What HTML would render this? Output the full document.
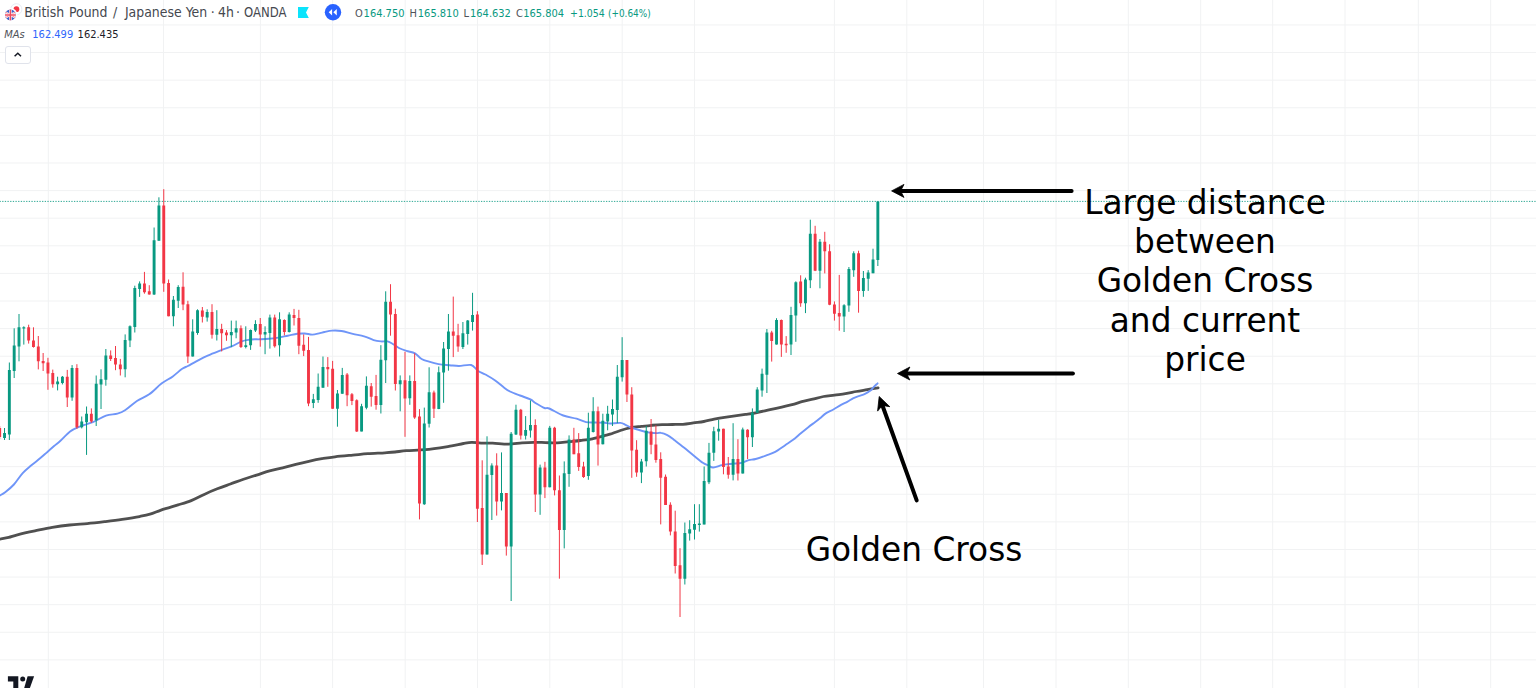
<!DOCTYPE html>
<html><head><meta charset="utf-8"><title>GBPJPY 4h</title>
<style>
html,body{margin:0;padding:0;background:#fff;}
body{width:1536px;height:688px;overflow:hidden;position:relative;font-family:"Liberation Sans",Arial,sans-serif;}
.chart{position:absolute;left:0;top:0;}
.t{position:absolute;white-space:nowrap;line-height:1;}
.title{top:6.4px;font-size:13.9px;color:#45484f;font-family:"DejaVu Sans Condensed","DejaVu Sans",sans-serif;}
.hd{font-family:"DejaVu Sans Condensed","DejaVu Sans",sans-serif;font-size:11px;top:8.3px;}
.k{color:#505359;}
.v{color:#089981;}
.ma{top:29.4px;}
.btn{position:absolute;left:5.3px;top:46.4px;width:25.6px;height:17.8px;border:1px solid #e0e3eb;border-radius:3px;box-sizing:border-box;background:#fff;}
.ann{position:absolute;font-family:"DejaVu Sans",Verdana,sans-serif;font-size:32.8px;color:#000;text-align:center;line-height:39.2px;white-space:nowrap;}
</style></head><body>
<svg class="chart" width="1536" height="688" viewBox="0 0 1536 688"><path d="M0 24.95H1536 M0 52.56H1536 M0 80.16H1536 M0 107.77H1536 M0 135.37H1536 M0 162.98H1536 M0 190.59H1536 M0 218.19H1536 M0 245.80H1536 M0 273.40H1536 M0 301.01H1536 M0 328.62H1536 M0 356.22H1536 M0 383.83H1536 M0 411.43H1536 M0 439.04H1536 M0 466.65H1536 M0 494.25H1536 M0 521.86H1536 M0 549.46H1536 M0 577.07H1536 M0 604.68H1536 M0 632.28H1536 M0 659.89H1536 M48.30 0V688 M163.50 0V688 M260.40 0V688 M332.60 0V688 M405.20 0V688 M477.50 0V688 M549.80 0V688 M622.20 0V688 M694.50 0V688 M834.40 0V688 M906.80 0V688 M983.50 0V688 M1056.00 0V688 M1128.30 0V688 M1200.70 0V688 M1272.70 0V688 M1345.00 0V688 M1418.30 0V688 M1490.70 0V688" stroke="#f1f2f3" stroke-width="1" fill="none"/><path d="M0.0 539.1C1.4 538.8 5.8 538.1 8.7 537.4C11.6 536.7 13.0 535.9 17.4 534.8C21.8 533.7 29.1 532.1 34.9 530.9C40.7 529.7 46.5 528.4 52.3 527.4C58.1 526.4 63.9 525.6 69.7 525.0C75.5 524.4 81.4 524.1 87.2 523.6C93.0 523.1 98.8 522.4 104.6 521.7C110.4 521.0 116.3 520.3 122.1 519.4C127.9 518.5 134.8 517.4 139.5 516.5C144.2 515.6 146.5 515.2 150.0 514.2C153.5 513.2 157.1 511.4 160.4 510.3C163.7 509.2 167.1 508.3 170.0 507.4C172.9 506.5 174.6 506.0 178.1 504.9C181.6 503.8 186.8 502.4 191.2 500.6C195.5 498.9 199.8 496.4 204.2 494.4C208.5 492.4 212.9 490.5 217.3 488.8C221.7 487.1 226.0 485.6 230.4 484.0C234.8 482.4 239.2 480.7 243.5 479.2C247.8 477.7 252.2 476.5 256.5 475.1C260.9 473.7 265.2 472.1 269.6 470.9C274.0 469.7 278.3 469.0 282.7 467.9C287.1 466.8 291.4 465.4 295.8 464.3C300.2 463.2 304.5 462.2 308.8 461.3C313.1 460.4 317.5 459.5 321.9 458.7C326.3 458.0 329.9 457.4 335.0 456.8C340.1 456.2 347.3 455.6 352.8 455.1C358.3 454.6 362.5 454.1 367.9 453.7C373.2 453.3 380.4 453.1 384.9 452.8C389.4 452.5 391.4 452.4 395.0 452.0C398.6 451.6 402.5 451.0 406.3 450.7C410.1 450.4 413.8 450.3 417.6 450.1C421.4 449.9 425.3 449.8 429.0 449.4C432.7 449.0 436.2 448.5 440.0 447.9C443.8 447.3 447.8 446.5 451.7 445.8C455.6 445.1 460.1 444.1 463.4 443.5C466.7 442.9 468.7 442.4 471.6 442.3C474.5 442.2 477.5 443.0 481.0 443.1C484.5 443.2 488.2 442.9 492.7 443.1C497.2 443.3 503.1 444.1 508.0 444.1C512.9 444.1 517.7 443.2 522.0 442.9C526.3 442.6 529.9 442.4 533.8 442.3C537.7 442.2 541.6 442.5 545.5 442.6C549.4 442.7 553.3 443.1 557.2 442.9C561.1 442.8 565.0 442.1 568.9 441.7C572.8 441.3 576.7 441.0 580.6 440.5C584.5 440.0 588.4 439.6 592.3 438.8C596.2 438.0 601.1 436.6 604.1 435.8C607.1 435.0 607.3 435.1 610.0 434.2C612.7 433.3 616.9 431.6 620.4 430.5C623.9 429.4 627.3 428.4 630.8 427.7C634.3 427.0 637.8 426.8 641.3 426.4C644.8 426.0 648.2 425.6 651.7 425.3C655.2 425.0 658.6 424.7 662.1 424.6C665.6 424.5 669.0 424.6 672.5 424.5C676.0 424.4 679.4 424.6 682.9 424.3C686.4 424.0 689.8 423.4 693.3 422.9C696.8 422.4 700.3 422.1 703.8 421.5C707.3 420.9 710.7 419.8 714.2 419.1C717.7 418.4 721.1 417.8 724.6 417.3C728.1 416.8 731.5 416.4 735.0 415.9C738.5 415.4 741.9 414.9 745.4 414.4C748.9 413.9 751.7 413.6 755.8 412.8C759.9 412.0 764.1 411.0 770.0 409.7C775.9 408.4 785.6 406.2 790.9 404.9C796.2 403.6 798.2 402.7 801.8 401.7C805.4 400.8 809.1 400.1 812.7 399.2C816.3 398.3 820.0 397.2 823.6 396.5C827.2 395.8 830.9 395.6 834.5 395.1C838.1 394.6 841.8 394.3 845.4 393.7C849.0 393.1 852.7 392.2 856.3 391.5C859.9 390.8 863.6 390.3 867.2 389.7C870.8 389.1 876.3 388.1 878.1 387.8" fill="none" stroke="#505050" stroke-width="2.8" stroke-linejoin="round" stroke-linecap="round"/><path d="M0.0 495.4C0.9 494.9 2.9 494.1 5.2 492.3C7.5 490.5 11.0 487.7 13.9 484.5C16.8 481.3 19.8 476.3 22.7 473.1C25.6 469.9 28.5 467.8 31.4 465.3C34.3 462.8 37.5 460.5 40.1 458.3C42.7 456.1 44.8 454.2 47.1 452.2C49.4 450.1 51.9 447.9 54.1 446.0C56.3 444.1 57.5 443.4 60.2 441.0C62.9 438.6 66.9 433.9 70.1 431.5C73.3 429.1 75.8 428.2 79.6 426.6C83.4 425.1 88.4 424.0 92.8 422.2C97.2 420.4 101.9 417.0 106.0 415.6C110.1 414.2 114.2 414.6 117.4 413.7C120.6 412.8 121.8 412.4 125.0 410.3C128.2 408.2 132.9 403.7 136.9 401.0C140.9 398.3 145.1 397.2 149.2 394.3C153.3 391.4 157.6 386.6 161.5 383.6C165.4 380.6 169.4 378.9 172.8 376.4C176.2 373.9 179.7 370.5 182.2 368.8C184.7 367.1 185.6 367.2 187.9 366.0C190.2 364.8 193.0 363.0 196.3 361.3C199.6 359.6 203.6 357.4 207.7 355.6C211.8 353.8 216.8 351.9 220.9 350.3C225.0 348.7 228.7 347.6 232.2 346.1C235.7 344.6 238.9 342.4 241.7 341.4C244.5 340.3 247.0 340.1 249.2 339.8C251.4 339.5 253.2 339.4 254.9 339.3C256.6 339.2 257.1 339.4 259.4 339.3C261.7 339.2 265.8 339.1 268.9 338.8C272.0 338.5 275.1 338.1 278.3 337.6C281.5 337.1 284.7 336.3 287.8 335.7C290.9 335.1 294.4 334.2 297.2 333.8C300.0 333.4 302.3 333.4 304.8 333.5C307.3 333.6 309.9 334.7 312.4 334.6C314.9 334.5 317.9 333.5 319.9 333.1C321.9 332.7 322.4 332.4 324.4 332.0C326.4 331.6 329.1 330.8 332.0 330.6C334.9 330.4 338.0 330.4 341.5 331.0C345.0 331.6 349.0 333.0 352.8 333.9C356.6 334.8 360.6 335.3 364.1 336.3C367.6 337.3 370.8 339.2 373.6 340.1C376.4 341.0 378.8 341.2 381.1 341.4C383.4 341.6 385.6 340.9 387.6 341.4C389.6 341.9 391.3 343.1 393.2 344.2C395.1 345.3 396.7 346.9 398.9 348.0C401.1 349.1 403.8 350.0 406.5 350.9C409.2 351.8 412.5 351.9 415.0 353.3C417.5 354.7 419.2 357.6 421.6 359.0C424.0 360.4 426.3 360.8 429.1 361.6C431.9 362.5 435.2 363.5 438.6 364.1C442.0 364.7 446.2 364.9 449.6 365.2C453.0 365.5 455.3 366.0 458.9 366.0C462.5 366.0 468.0 364.2 471.2 365.0C474.4 365.8 475.4 369.1 477.8 370.7C480.2 372.3 482.6 372.9 485.4 374.5C488.2 376.1 491.7 378.0 494.8 380.2C497.9 382.4 501.7 385.8 504.2 387.7C506.7 389.6 507.4 390.2 510.0 391.5C512.6 392.8 516.6 394.2 520.0 395.5C523.4 396.8 528.0 398.2 530.5 399.4C533.0 400.6 532.7 401.4 535.0 402.8C537.3 404.2 542.0 407.1 544.4 408.0C546.8 408.9 546.1 407.2 549.2 408.5C552.4 409.8 558.7 413.8 563.3 415.5C567.9 417.2 572.8 417.6 576.6 418.7C580.4 419.8 582.9 421.5 586.0 422.1C589.1 422.7 592.3 422.4 595.5 422.5C598.7 422.6 602.6 422.6 605.0 422.8C607.4 423.0 607.4 423.5 610.0 423.5C612.6 423.5 617.8 422.7 620.4 422.9C623.0 423.1 623.9 424.1 625.6 424.8C627.3 425.6 628.5 426.5 630.8 427.4C633.1 428.3 636.1 429.1 639.2 430.0C642.3 430.9 646.7 432.1 649.6 432.6C652.5 433.1 655.0 433.1 656.9 433.1C658.8 433.2 659.3 432.5 661.0 432.9C662.7 433.2 665.2 434.1 667.3 435.2C669.4 436.3 670.7 437.3 673.5 439.4C676.3 441.5 680.6 445.0 683.9 447.6C687.2 450.2 690.1 452.7 693.3 455.2C696.4 457.7 700.3 461.1 702.8 462.8C705.3 464.5 706.8 464.8 708.5 465.6C710.2 466.4 711.0 467.6 713.2 467.5C715.4 467.4 719.3 465.8 721.7 465.2C724.1 464.6 725.8 464.5 727.8 464.2C729.8 463.9 731.3 463.8 733.6 463.6C735.9 463.4 739.2 463.4 741.7 462.8C744.2 462.2 746.4 460.7 748.7 460.1C751.0 459.5 752.9 459.8 755.7 459.0C758.6 458.2 762.5 456.8 765.8 455.6C769.0 454.4 771.9 453.7 775.2 451.9C778.5 450.1 782.5 447.0 785.5 445.0C788.5 443.0 790.8 441.6 793.1 439.8C795.5 438.0 797.1 436.4 799.6 434.3C802.1 432.2 805.8 429.2 808.3 427.2C810.8 425.2 812.9 423.8 814.9 422.3C816.9 420.8 818.5 419.5 820.3 418.0C822.1 416.5 823.6 414.8 825.8 413.4C828.0 412.0 830.9 410.9 833.4 409.5C835.9 408.1 838.6 406.2 841.0 404.9C843.4 403.6 845.6 402.7 847.6 401.6C849.6 400.5 851.2 399.2 853.0 398.3C854.8 397.4 856.5 396.9 858.5 396.2C860.5 395.4 863.0 394.8 865.0 393.8C867.0 392.9 869.0 391.6 870.5 390.5C872.0 389.4 872.6 388.1 873.8 386.9C875.0 385.7 877.0 383.9 877.6 383.3" fill="none" stroke="#6f95f8" stroke-width="1.9" stroke-linejoin="round" stroke-linecap="round"/><path d="M4.53 428.0V440.0 M9.35 362.5V440.0 M14.18 328.3V378.0 M19.00 314.0V361.3 M23.82 326.3V344.6 M57.60 376.7V390.4 M62.43 376.0V384.4 M72.08 365.1V400.8 M81.73 416.5V428.4 M86.55 406.5V454.9 M96.20 375.5V426.0 M101.03 369.3V409.0 M105.85 349.0V385.7 M125.15 334.4V377.3 M129.97 325.4V347.1 M134.80 285.7V332.5 M139.62 281.4V296.9 M154.10 227.5V295.0 M158.92 197.3V240.7 M173.40 296.0V326.3 M178.22 285.2V308.0 M192.70 319.3V356.5 M197.53 309.3V334.8 M207.17 309.3V321.6 M216.82 310.2V340.5 M231.30 320.6V347.1 M236.12 320.6V338.3 M245.78 326.3V348.4 M250.60 329.5V349.9 M255.43 320.2V332.0 M265.07 326.3V354.2 M269.90 314.6V348.6 M279.55 312.3V356.5 M289.20 312.3V332.5 M313.32 393.9V408.1 M318.15 373.5V402.8 M322.98 356.5V387.7 M337.45 390.0V426.7 M342.27 367.9V393.8 M361.57 403.8V431.4 M366.40 376.4V409.3 M380.88 345.2V413.5 M385.70 291.3V383.0 M400.18 375.4V411.3 M409.82 375.4V404.8 M424.30 407.6V504.9 M429.12 367.3V427.5 M438.77 366.5V409.2 M443.60 342.0V402.8 M448.43 314.0V370.7 M462.90 322.0V349.0 M467.73 320.0V344.6 M472.55 292.8V330.6 M487.03 436.3V554.6 M491.85 463.3V520.0 M501.50 452.4V510.4 M511.15 432.0V601.0 M515.98 404.7V435.0 M525.63 416.1V439.5 M530.45 400.4V437.6 M540.10 464.6V514.8 M549.75 425.9V487.3 M564.23 461.4V548.4 M569.05 435.4V486.8 M588.35 412.7V479.8 M593.18 397.2V432.5 M602.83 413.7V444.4 M607.65 405.8V430.3 M612.48 399.5V426.0 M617.30 365.0V423.1 M622.13 337.2V381.6 M641.43 458.9V483.1 M646.25 426.0V466.5 M684.85 522.5V584.5 M689.68 520.2V540.6 M694.50 504.2V539.5 M699.33 504.2V531.6 M704.15 466.5V524.4 M708.98 442.9V484.1 M713.80 426.8V460.9 M718.63 419.9V440.7 M733.10 423.2V480.4 M742.75 427.6V473.5 M752.40 408.4V447.0 M757.23 387.2V412.8 M762.05 368.6V396.7 M766.88 329.0V393.0 M776.53 318.2V344.6 M791.00 306.8V355.0 M795.83 281.3V341.8 M805.48 277.7V313.1 M810.30 219.7V288.1 M819.95 239.0V288.3 M844.08 304.2V332.0 M848.90 267.0V311.8 M853.73 251.3V276.8 M863.38 271.0V296.8 M868.20 270.1V290.9 M873.03 248.7V273.2 M877.85 201.4V266.0" stroke="#089981" stroke-width="1" fill="none"/><path d="M-0.30 426.0V439.0 M28.65 324.7V343.6 M33.48 327.3V347.6 M38.30 336.0V369.4 M43.13 353.0V371.0 M47.95 357.8V389.8 M52.78 369.6V387.7 M67.25 369.9V407.0 M76.90 364.2V428.8 M91.38 408.4V422.8 M110.68 350.4V361.0 M115.50 346.0V370.2 M120.33 358.9V375.5 M144.45 271.9V293.7 M149.28 285.2V294.6 M163.75 189.2V291.8 M168.57 279.5V316.3 M183.05 272.3V310.2 M187.88 300.8V363.1 M202.35 307.0V322.5 M212.00 304.2V338.6 M221.65 323.8V351.4 M226.47 330.1V340.8 M240.95 325.4V348.0 M260.25 318.0V346.7 M274.73 314.6V347.6 M284.38 319.3V335.4 M294.02 308.9V325.5 M298.85 309.8V354.2 M303.68 334.4V356.1 M308.50 336.9V406.2 M327.80 357.1V386.8 M332.62 360.9V408.7 M347.10 373.0V406.2 M351.93 393.0V405.1 M356.75 399.3V432.0 M371.23 383.0V406.6 M376.05 374.9V409.7 M390.52 284.2V335.7 M395.35 308.7V390.5 M405.00 351.8V436.8 M414.65 353.3V418.9 M419.48 409.1V519.4 M433.95 390.6V418.0 M453.25 296.6V357.1 M458.07 323.8V351.8 M477.38 311.2V522.0 M482.20 460.3V565.0 M496.68 453.3V515.6 M506.32 493.0V555.6 M520.80 408.9V439.5 M535.28 419.3V512.0 M544.93 461.8V498.1 M554.58 426.8V495.4 M559.40 475.5V578.7 M573.88 427.8V454.2 M578.70 433.1V470.9 M583.53 461.8V477.9 M598.00 406.6V465.6 M626.95 360.1V402.0 M631.78 387.2V477.8 M636.60 440.2V476.8 M651.08 419.0V454.2 M655.90 425.4V462.7 M660.73 452.3V524.4 M665.55 474.5V504.9 M670.38 502.3V535.4 M675.20 510.7V573.5 M680.03 548.2V617.0 M723.45 428.7V474.3 M728.28 457.0V478.7 M737.93 439.2V480.5 M747.58 429.2V459.0 M771.70 330.8V361.6 M781.35 319.5V356.9 M786.18 336.1V352.8 M800.65 275.3V306.8 M815.13 225.8V271.1 M824.78 231.8V273.4 M829.60 244.3V305.2 M834.43 301.4V320.6 M839.25 274.9V330.7 M858.55 250.7V312.7" stroke="#f23645" stroke-width="1" fill="none"/><path d="M3.08 433.0h2.9V438.0h-2.9z M7.90 370.0h2.9V434.5h-2.9z M12.73 345.6h2.9V371.0h-2.9z M17.55 327.3h2.9V346.6h-2.9z M22.38 327.3h2.9V328.5h-2.9z M56.15 381.6h2.9V384.3h-2.9z M60.98 376.8h2.9V383.0h-2.9z M70.62 368.0h2.9V397.6h-2.9z M80.28 421.6h2.9V427.3h-2.9z M85.10 413.7h2.9V422.2h-2.9z M94.75 383.8h2.9V420.3h-2.9z M99.58 379.3h2.9V384.4h-2.9z M104.40 355.5h2.9V379.7h-2.9z M123.70 340.1h2.9V369.2h-2.9z M128.53 326.3h2.9V340.5h-2.9z M133.35 288.0h2.9V326.9h-2.9z M138.18 283.6h2.9V288.9h-2.9z M152.65 240.2h2.9V294.6h-2.9z M157.47 205.4h2.9V240.7h-2.9z M171.95 299.8h2.9V316.3h-2.9z M176.78 287.0h2.9V300.7h-2.9z M191.25 331.4h2.9V356.5h-2.9z M196.08 310.2h2.9V332.9h-2.9z M205.72 312.1h2.9V317.4h-2.9z M215.38 329.1h2.9V334.8h-2.9z M229.85 332.0h2.9V335.2h-2.9z M234.68 328.2h2.9V332.5h-2.9z M244.33 345.2h2.9V347.1h-2.9z M249.15 330.1h2.9V345.2h-2.9z M253.98 324.0h2.9V330.6h-2.9z M263.62 332.0h2.9V334.4h-2.9z M268.45 317.4h2.9V333.1h-2.9z M278.10 319.3h2.9V345.2h-2.9z M287.75 314.6h2.9V332.0h-2.9z M311.88 399.2h2.9V403.0h-2.9z M316.70 386.8h2.9V400.0h-2.9z M321.53 366.9h2.9V387.7h-2.9z M336.00 393.6h2.9V408.7h-2.9z M340.82 374.9h2.9V393.8h-2.9z M360.12 406.3h2.9V431.4h-2.9z M364.95 385.8h2.9V407.8h-2.9z M379.43 359.7h2.9V405.0h-2.9z M384.25 301.7h2.9V360.3h-2.9z M398.73 380.2h2.9V384.3h-2.9z M408.38 381.0h2.9V398.2h-2.9z M422.85 423.4h2.9V504.3h-2.9z M427.68 392.3h2.9V423.8h-2.9z M437.32 372.2h2.9V409.1h-2.9z M442.15 348.4h2.9V372.6h-2.9z M446.98 331.4h2.9V349.0h-2.9z M461.45 333.3h2.9V347.1h-2.9z M466.28 320.6h2.9V333.9h-2.9z M471.10 315.0h2.9V322.0h-2.9z M485.58 474.7h2.9V554.6h-2.9z M490.40 465.6h2.9V475.0h-2.9z M500.05 493.1h2.9V501.6h-2.9z M509.70 433.8h2.9V546.5h-2.9z M514.52 409.8h2.9V434.4h-2.9z M524.18 430.1h2.9V435.7h-2.9z M529.00 425.0h2.9V430.6h-2.9z M538.65 467.5h2.9V494.5h-2.9z M548.30 427.8h2.9V487.3h-2.9z M562.77 473.2h2.9V530.1h-2.9z M567.60 439.5h2.9V474.1h-2.9z M586.90 427.8h2.9V476.0h-2.9z M591.73 411.2h2.9V432.0h-2.9z M601.38 420.8h2.9V444.2h-2.9z M606.20 413.7h2.9V421.6h-2.9z M611.02 409.0h2.9V414.6h-2.9z M615.85 376.8h2.9V409.9h-2.9z M620.68 360.1h2.9V377.2h-2.9z M639.98 461.5h2.9V472.5h-2.9z M644.80 430.7h2.9V461.3h-2.9z M683.40 533.1h2.9V578.8h-2.9z M688.23 529.3h2.9V533.5h-2.9z M693.05 524.0h2.9V529.7h-2.9z M697.88 523.6h2.9V525.0h-2.9z M702.70 481.1h2.9V524.4h-2.9z M707.52 452.7h2.9V482.2h-2.9z M712.35 431.2h2.9V452.7h-2.9z M717.18 428.7h2.9V431.6h-2.9z M731.65 459.0h2.9V474.7h-2.9z M741.30 429.4h2.9V473.5h-2.9z M750.95 412.8h2.9V437.3h-2.9z M755.77 389.5h2.9V412.8h-2.9z M760.60 373.8h2.9V390.6h-2.9z M765.43 332.4h2.9V374.7h-2.9z M775.08 320.1h2.9V344.6h-2.9z M789.55 315.0h2.9V344.6h-2.9z M794.38 282.3h2.9V315.4h-2.9z M804.02 279.5h2.9V303.2h-2.9z M808.85 233.7h2.9V280.2h-2.9z M818.50 241.8h2.9V270.8h-2.9z M842.62 305.2h2.9V316.5h-2.9z M847.45 268.9h2.9V305.5h-2.9z M852.27 253.2h2.9V270.2h-2.9z M861.93 278.0h2.9V291.0h-2.9z M866.75 272.6h2.9V278.7h-2.9z M871.58 259.4h2.9V273.2h-2.9z M876.40 201.4h2.9V259.9h-2.9z" fill="#089981"/><path d="M-1.75 428.0h2.9V437.0h-2.9z M27.20 327.3h2.9V340.5h-2.9z M32.02 340.5h2.9V347.0h-2.9z M36.85 346.6h2.9V361.3h-2.9z M41.68 361.0h2.9V363.3h-2.9z M46.50 362.5h2.9V373.5h-2.9z M51.33 373.0h2.9V384.3h-2.9z M65.80 376.8h2.9V397.6h-2.9z M75.45 368.0h2.9V427.3h-2.9z M89.92 413.7h2.9V421.6h-2.9z M109.23 355.5h2.9V358.9h-2.9z M114.05 358.0h2.9V364.6h-2.9z M118.88 364.6h2.9V369.3h-2.9z M143.00 283.6h2.9V292.3h-2.9z M147.83 291.2h2.9V294.6h-2.9z M162.30 205.4h2.9V283.6h-2.9z M167.12 282.9h2.9V316.3h-2.9z M181.60 286.7h2.9V304.5h-2.9z M186.43 304.2h2.9V356.5h-2.9z M200.90 310.6h2.9V316.8h-2.9z M210.55 312.1h2.9V334.8h-2.9z M220.20 329.1h2.9V333.3h-2.9z M225.03 332.5h2.9V335.2h-2.9z M239.50 328.2h2.9V347.1h-2.9z M258.80 324.0h2.9V334.4h-2.9z M273.28 317.4h2.9V346.3h-2.9z M282.93 319.9h2.9V332.0h-2.9z M292.57 315.0h2.9V318.0h-2.9z M297.40 318.0h2.9V345.7h-2.9z M302.23 344.8h2.9V350.8h-2.9z M307.05 350.1h2.9V403.4h-2.9z M326.35 366.9h2.9V369.2h-2.9z M331.18 368.8h2.9V408.7h-2.9z M345.65 374.5h2.9V395.3h-2.9z M350.48 394.3h2.9V400.9h-2.9z M355.30 400.2h2.9V431.4h-2.9z M369.78 386.2h2.9V396.8h-2.9z M374.60 396.1h2.9V405.0h-2.9z M389.07 301.7h2.9V314.4h-2.9z M393.90 314.0h2.9V383.9h-2.9z M403.55 380.2h2.9V398.5h-2.9z M413.20 381.0h2.9V417.5h-2.9z M418.03 416.4h2.9V503.6h-2.9z M432.50 392.6h2.9V408.7h-2.9z M451.80 331.4h2.9V335.7h-2.9z M456.62 335.2h2.9V346.5h-2.9z M475.93 314.4h2.9V508.8h-2.9z M480.75 508.0h2.9V554.6h-2.9z M495.23 465.6h2.9V501.6h-2.9z M504.88 493.1h2.9V546.5h-2.9z M519.35 409.8h2.9V435.4h-2.9z M533.83 425.0h2.9V494.5h-2.9z M543.48 467.5h2.9V487.3h-2.9z M553.12 427.8h2.9V490.2h-2.9z M557.95 490.3h2.9V530.1h-2.9z M572.43 439.5h2.9V454.2h-2.9z M577.25 453.3h2.9V467.1h-2.9z M582.08 466.5h2.9V476.9h-2.9z M596.55 411.2h2.9V444.4h-2.9z M625.50 360.1h2.9V394.4h-2.9z M630.33 394.4h2.9V450.4h-2.9z M635.15 449.7h2.9V472.5h-2.9z M649.62 431.6h2.9V444.8h-2.9z M654.45 444.5h2.9V459.9h-2.9z M659.27 459.1h2.9V477.8h-2.9z M664.10 476.8h2.9V505.0h-2.9z M668.93 504.7h2.9V531.6h-2.9z M673.75 531.4h2.9V566.0h-2.9z M678.58 565.2h2.9V578.8h-2.9z M722.00 428.7h2.9V467.1h-2.9z M726.83 466.5h2.9V474.7h-2.9z M736.48 459.0h2.9V473.5h-2.9z M746.12 429.8h2.9V437.3h-2.9z M770.25 332.4h2.9V340.9h-2.9z M779.90 320.1h2.9V344.6h-2.9z M784.73 343.7h2.9V345.2h-2.9z M799.20 281.5h2.9V303.2h-2.9z M813.68 233.7h2.9V270.8h-2.9z M823.33 241.8h2.9V251.3h-2.9z M828.15 251.3h2.9V304.8h-2.9z M832.98 304.5h2.9V313.7h-2.9z M837.80 313.1h2.9V316.5h-2.9z M857.10 253.2h2.9V291.0h-2.9z" fill="#f23645"/><path d="M0 201.4H1536" stroke="#089981" stroke-width="1" stroke-dasharray="1.3 1.36" stroke-dashoffset="0.5" opacity="0.85" fill="none"/><path d="M899.6 190.9H1071.6" stroke="#000" stroke-width="4" stroke-linecap="round"/><path d="M891.6 190.9L904.0 184.4L900.6 190.9L904.0 197.4Z" fill="#000" stroke="#000" stroke-width="0.8" stroke-linejoin="round"/><path d="M905.5 373.5H1072.9" stroke="#000" stroke-width="4" stroke-linecap="round"/><path d="M897.5 373.5L909.9 367.0L906.5 373.5L909.9 380.0Z" fill="#000" stroke="#000" stroke-width="0.8" stroke-linejoin="round"/><path d="M881.9 404.0L916.7 500.4" stroke="#000" stroke-width="4" stroke-linecap="round"/><path d="M879.2 396.5L877.6 411.1L882.4 405.4L889.8 406.7Z" fill="#000" stroke="#000" stroke-width="0.8" stroke-linejoin="round"/><path d="M7.9 676.3H18.3V688H13.3V681.5H7.9Z" fill="#131722"/><circle cx="22.7" cy="679" r="2.5" fill="#131722"/><path d="M27.6 676.3H34.1L29.9 688H24.2Z" fill="#131722"/></svg>
<div class="t title" style="left:24.3px">British</div><div class="t title" style="left:69px">Pound</div><div class="t title" style="left:113px">/</div><div class="t title" style="left:124.9px">Japanese</div><div class="t title" style="left:185.7px">Yen</div><div class="t title" style="left:210.8px">·</div><div class="t title" style="left:218px">4h</div><div class="t title" style="left:235.9px">·</div><div class="t title" style="left:244px;transform:scaleX(0.935);transform-origin:0 0">OANDA</div>
<svg style="position:absolute;left:0;top:0" width="360" height="26" viewBox="0 0 360 26">
<circle cx="16.3" cy="9.3" r="5.6" fill="#fff" stroke="#dfe6f3" stroke-width="0.8"/>
<circle cx="16.4" cy="9.2" r="2.9" fill="#f23645"/>
<circle cx="10.4" cy="14.9" r="7" fill="#fff"/>
<circle cx="10.4" cy="14.9" r="5.4" fill="#3a62c9"/>
<path d="M5.6 12.3L15.2 17.5M5.6 17.5L15.2 12.3" stroke="#fff" stroke-width="2"/>
<path d="M5.6 12.3L15.2 17.5M5.6 17.5L15.2 12.3" stroke="#ef4b5f" stroke-width="0.8"/>
<path d="M10.4 9.5V20.3M5 14.9H15.8" stroke="#fff" stroke-width="2.6"/>
<path d="M10.4 9.5V20.3M5 14.9H15.8" stroke="#ef4b5f" stroke-width="1.5"/>
<path d="M298 7H308.8L306 12.4L308.8 18H298Z" fill="#0be4fc"/>
<circle cx="333" cy="12.3" r="8.2" fill="#2962ff"/>
<path d="M328.7 12.3L332.1 9V15.6Z M333.3 12.3L336.8 9V15.6Z" fill="#fff"/>
</svg>
<div class="t hd k" style="left:355px">O</div><div class="t hd v" style="left:363.6px">164.750</div>
<div class="t hd k" style="left:409.6px">H</div><div class="t hd v" style="left:417.8px">165.810</div>
<div class="t hd k" style="left:463.6px">L</div><div class="t hd v" style="left:470px">164.632</div>
<div class="t hd k" style="left:516px">C</div><div class="t hd v" style="left:523.2px">165.804</div>
<div class="t hd v" style="left:569.5px;transform:scaleX(0.95);transform-origin:0 0">+1.054</div><div class="t hd v" style="left:607.8px;transform:scaleX(0.9);transform-origin:0 0">(+0.64%)</div>
<div class="t hd ma k" style="left:4.2px;font-style:italic">MAs</div><div class="t hd ma" style="left:32.3px;color:#2f66fb">162.499</div><div class="t hd ma" style="left:77.6px;color:#1e2028">162.435</div>
<div class="btn"><svg width="22" height="15" viewBox="0 0 22 15" style="position:absolute;left:0;top:0"><path d="M8.6 9.2L11.8 6.2L15 9.2" stroke="#131722" stroke-width="1.5" fill="none"/></svg></div>
<div class="ann" style="left:1025px;top:184px;width:360px;">Large distance<br>between<br>Golden Cross<br>and current<br>price</div>
<div class="ann" style="left:800px;top:531px;width:228px;">Golden Cross</div>
</body></html>
